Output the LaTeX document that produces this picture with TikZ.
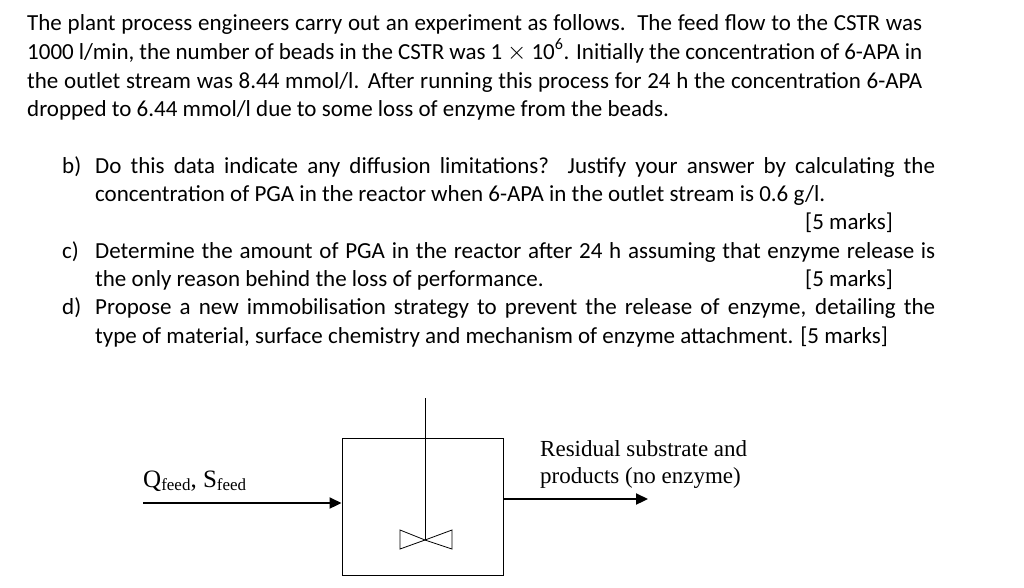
\documentclass[tikz,border=0pt]{standalone}
\usepackage{fontspec}
\setmainfont{Carlito}
\newfontfamily\tnr{Liberation Serif}
\usetikzlibrary{arrows.meta}
\newcommand{\mysub}[1]{\raisebox{-3pt}{\fontsize{17}{19}\selectfont #1}}
\begin{document}
\begin{tikzpicture}[x=1pt,y=-1pt,
  txt/.style={anchor=base west,inner sep=0pt,font=\fontsize{23}{26}\selectfont},
  rt/.style={anchor=base east,inner sep=0pt,font=\fontsize{23}{26}\selectfont},
  lab/.style={anchor=base west,inner sep=0pt,font=\tnr\fontsize{23}{26}\selectfont},
  flow/.style={line width=2.2pt,-{Triangle[length=12pt,width=11pt]}}]
\useasboundingbox (0,0) rectangle (1024,587);
\node[txt] (l1) at (27,30) {\makebox[895pt][s]{The plant process engineers carry out an experiment as follows.\ \ The feed flow to the CSTR was}};
\node[txt] (l2) at (27,59) {\makebox[895pt][s]{1000 l/min, the number of beads in the CSTR was 1 $\times$ 10\textsuperscript{6}. Initially the concentration of 6-APA in}};
\node[txt] (l3) at (27,88) {\makebox[895pt][s]{the outlet stream was 8.44 mmol/l. After running this process for 24 h the concentration 6-APA}};
\node[txt] (l4) at (27,116) {dropped to 6.44 mmol/l due to some loss of enzyme from the beads.};
\node[txt] (b1) at (62,173) {b)};
\node[txt] (b2) at (95,173) {\makebox[840pt][s]{Do this data indicate any diffusion limitations? Justify your answer by calculating the}};
\node[txt] (b3) at (95,201) {concentration of PGA in the reactor when 6-APA in the outlet stream is 0.6 g/l.};
\node[rt] (b4) at (893,229) {[5 marks]};
\node[txt] (c1) at (62,258) {c)};
\node[txt] (c2) at (95,258) {\makebox[840pt][s]{Determine the amount of PGA in the reactor after 24 h assuming that enzyme release is}};
\node[txt] (c3) at (95,286) {the only reason behind the loss of performance.};
\node[rt] (c4) at (893,286) {[5 marks]};
\node[txt] (d1) at (62,314) {d)};
\node[txt] (d2) at (95,314) {\makebox[840pt][s]{Propose a new immobilisation strategy to prevent the release of enzyme, detailing the}};
\node[txt] (d3) at (95,343) {type of material, surface chemistry and mechanism of enzyme attachment. [5 marks]};
% reactor
\node[draw,line width=1pt,minimum width=161pt,minimum height=137pt,inner sep=0pt] (r) at (422.5,506.5) {};
\coordinate (top) at (425,398);
\coordinate (hub) at (425,540);
\draw[line width=1pt] (top) -- (hub);
\draw[line width=0.8pt] (hub) -- (400,530) -- (400,549) -- cycle;
\draw[line width=0.8pt] (hub) -- (452,530) -- (452,549) -- cycle;
\coordinate (in) at (143,503);
\draw[flow] (in) -- (r.west |- in);
\coordinate (out) at (648,499);
\draw[flow] (r.east |- out) -- (out);
\node[lab] (q) at (143,487) {\fontsize{25}{28}\selectfont Q\mysub{feed}, S\mysub{feed}};
\node[lab] (o1) at (540,456) {Residual substrate and};
\node[lab] (o2) at (540,483) {products (no enzyme)};
\end{tikzpicture}
\end{document}
